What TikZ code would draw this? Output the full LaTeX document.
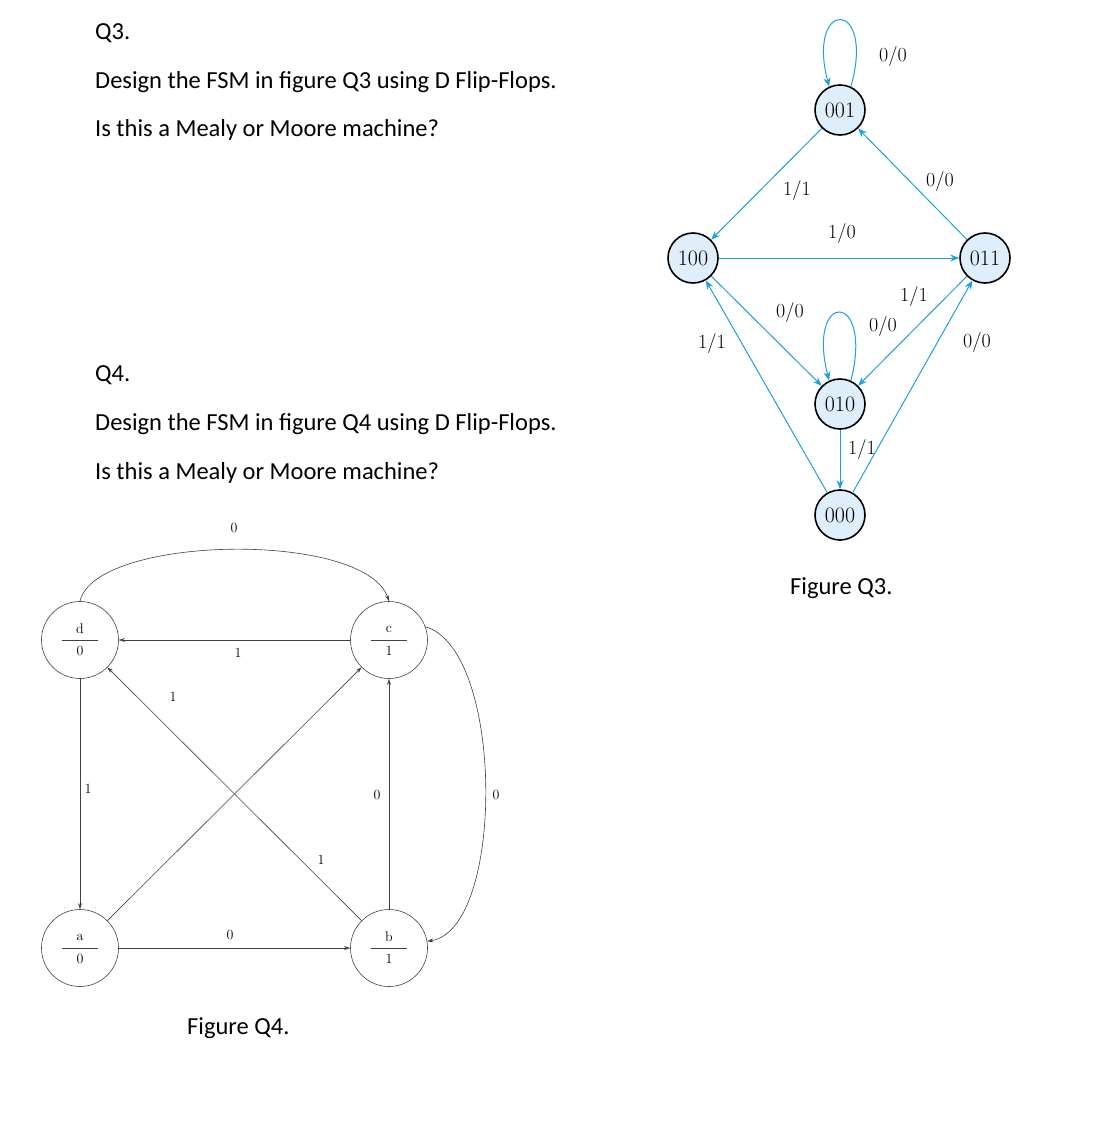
\documentclass[tikz,border=0pt]{standalone}
\usepackage{fontspec}
\setsansfont{Carlito}
\usetikzlibrary{arrows.meta}
\definecolor{fsmblue}{RGB}{30,160,220}
\definecolor{fsmfill}{RGB}{222,238,250}
\begin{document}
\begin{tikzpicture}[x=1pt,y=-1pt,
  txt/.style={font=\sffamily\fontsize{24.5}{28}\selectfont,anchor=west,inner sep=0},
  qstate/.style={circle,draw=black,line width=1.6pt,fill=fsmfill,minimum size=50pt,inner sep=0,font=\fontsize{22}{24}\selectfont},
  qedge/.style={draw=fsmblue,line width=1pt,-{Stealth[length=9pt,width=7pt]}},
  qlab/.style={font=\fontsize{20}{22}\selectfont,inner sep=0},
  mstate/.style={circle,draw=black!75,line width=0.6pt,minimum size=77pt,inner sep=0},
  medge/.style={draw=black!75,line width=0.6pt,-{Stealth[length=6pt,width=4pt]}},
  mlab/.style={font=\fontsize{14}{16}\selectfont,inner sep=0}]
\useasboundingbox (0,0) rectangle (1119,1126);
% texts
\node[txt] (t1) at (95,33) {Q3.};
\node[txt] (t2) at (95,82) {Design the FSM in figure Q3 using D Flip-Flops.};
\node[txt] (t3) at (95,130) {Is this a Mealy or Moore machine?};
\node[txt] (t4) at (95,375) {Q4.};
\node[txt] (t5) at (95,424) {Design the FSM in figure Q4 using D Flip-Flops.};
\node[txt] (t6) at (95,473) {Is this a Mealy or Moore machine?};
\node[txt] (f3) at (790,588) {Figure Q3.};
\node[txt] (f4) at (187,1028) {Figure Q4.};
% Q3
\node[qstate] (s001) at (840,110) {001};
\node[qstate] (s100) at (693,258) {100};
\node[qstate] (s011) at (985,258) {011};
\node[qstate] (s010) at (840,404) {010};
\node[qstate] (s000) at (840,515) {000};
\draw[qedge] (s001.65) .. controls (876,-2) and (806,-2) .. (s001.115);
\draw[qedge] (s001) -- (s100);
\draw[qedge] (s011) -- (s001);
\draw[qedge] (s100) -- (s011);
\draw[qedge] (s100) -- (s010);
\draw[qedge] (s011) -- (s010);
\draw[qedge] (s010.65) .. controls (874,290) and (806,290) .. (s010.115);
\draw[qedge] (s000) -- (s100);
\draw[qedge] (s000) -- (s011);
\draw[qedge] (s010) -- (s000);
\node[qlab] (l1) at (893,57) {0/0};
\node[qlab] (l2) at (797,190) {1/1};
\node[qlab] (l3) at (940,181) {0/0};
\node[qlab] (l4) at (842,233) {1/0};
\node[qlab] (l5) at (790,312) {0/0};
\node[qlab] (l6) at (914,296) {1/1};
\node[qlab] (l7) at (883,326) {0/0};
\node[qlab] (l8) at (712,343) {1/1};
\node[qlab] (l9) at (977,342) {0/0};
\node[qlab] (l10) at (862,449) {1/1};
% Q4
\foreach \n/\x/\y/\a/\o in {d/80/640/d/0, c/389/640/c/1, a/80/948/a/0, b/389/948/b/1}{
  \node[mstate] (\n) at (\x,\y) {};
  \draw[black!75,line width=0.6pt] (\x-18,\y) -- (\x+18,\y);
  \node[mlab] (\n u) at (\x,\y-11) {\a};
  \node[mlab] (\n o) at (\x,\y+11) {\o};
}
\draw[medge] (d.90) .. controls (95,535) and (365,530) .. (c.90);
\draw[medge] (c) -- (d);
\draw[medge] (d) -- (a);
\draw[medge] (a) -- (b);
\draw[medge] (b) -- (c);
\draw[medge] (a) -- (c);
\draw[medge] (b) -- (d);
\draw[medge] (c.20) .. controls (505,650) and (505,930) .. (b.10);
\node[mlab] (m1) at (234,528) {0};
\node[mlab] (m2) at (238,653) {1};
\node[mlab] (m3) at (173,697) {1};
\node[mlab] (m4) at (88,789) {1};
\node[mlab] (m5) at (377,795) {0};
\node[mlab] (m6) at (496,795) {0};
\node[mlab] (m7) at (321,860) {1};
\node[mlab] (m8) at (230,935) {0};
\end{tikzpicture}
\end{document}
